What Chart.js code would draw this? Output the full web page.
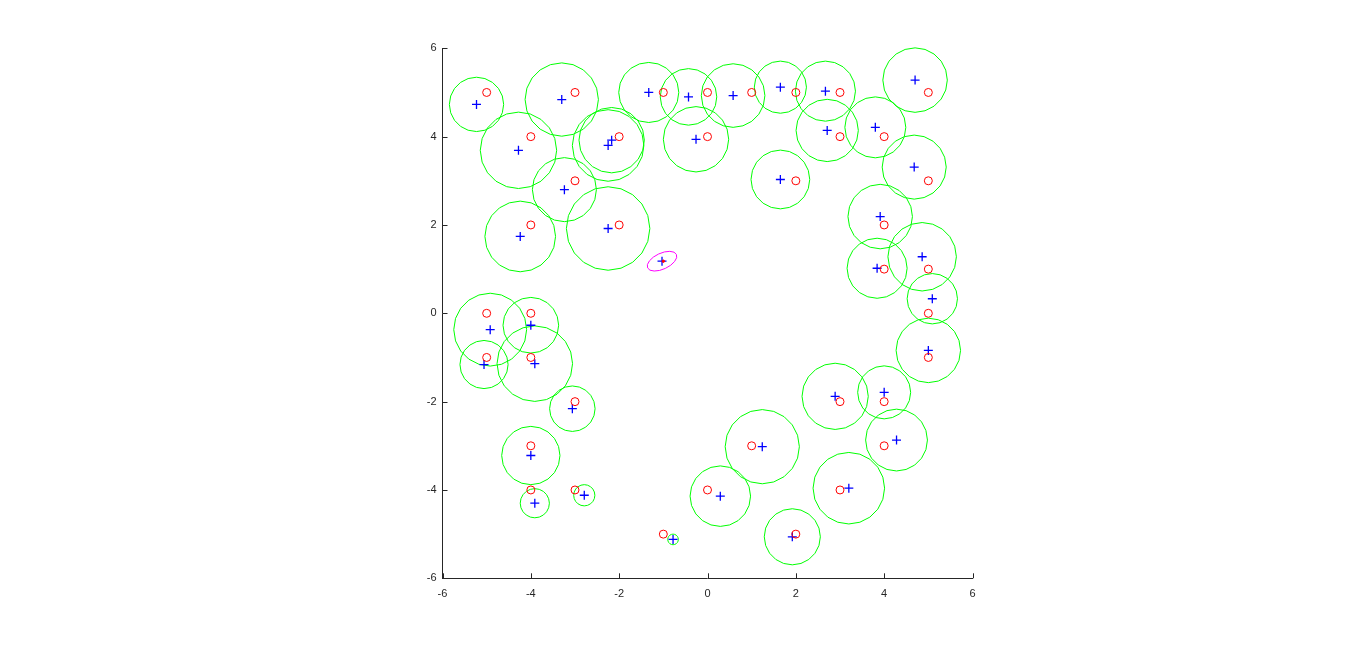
<!DOCTYPE html>
<html>
<head>
<meta charset="utf-8">
<script src="https://cdn.jsdelivr.net/npm/chart.js@4/dist/chart.umd.min.js"></script>
<style>
  html, body { margin: 0; padding: 0; background: #fff; }
  #wrap { width: 1366px; height: 651px; }
</style>
</head>
<body>
<div id="wrap"><canvas id="grafico" width="1366" height="651"></canvas></div>
<script>
// true positions (red circles)
const trueX = [-5, -3, -1, 0, 1, 2, 3, 5, -4, -2, 0, 3, 4, -3, 2, 5, -4, -2, 4, 4, 5, -5, -4, 5, -5, -4, 5, -3, 3, 4, -4, 1, 4, -4, -3, 0, 3, -1, 2];
const trueY = [5, 5, 5, 5, 5, 5, 5, 5, 4, 4, 4, 4, 4, 3, 3, 3, 2, 2, 2, 1, 1, 0, 0, 0, -1, -1, -1, -2, -2, -2, -3, -3, -3, -4, -4, -4, -4, -5, -5];

// estimates (blue +) and uncertainty radius (green circles)
const estX = [-5.23, -3.30, -1.33, -0.43, 0.58, 1.65, 2.67, 4.70, -4.28, -2.25, -2.17, -0.26, 2.71, 3.80, -3.24, 1.65, 4.68, -4.24, -2.25, 3.91, 4.86, 3.84, 5.09, -4.92, -4.00, 5.00, -5.06, -3.91, -3.06, 2.89, 4.00, 4.28, 1.24, -4.00, 3.20, 0.29, -3.91, -2.79, -0.78, 1.92];
const estY = [4.73, 4.84, 5.00, 4.90, 4.93, 5.12, 5.03, 5.28, 3.69, 3.80, 3.92, 3.94, 4.14, 4.21, 2.80, 3.03, 3.31, 1.74, 1.92, 2.19, 1.28, 1.02, 0.33, -0.37, -0.27, -0.84, -1.16, -1.14, -2.16, -1.88, -1.79, -2.87, -3.02, -3.22, -3.96, -4.14, -4.30, -4.12, -5.12, -5.06];
const estR = [0.615, 0.83, 0.68, 0.64, 0.72, 0.59, 0.68, 0.73, 0.865, 0.81, 0.74, 0.74, 0.705, 0.69, 0.725, 0.665, 0.725, 0.80, 0.945, 0.73, 0.775, 0.68, 0.57, 0.825, 0.63, 0.73, 0.545, 0.855, 0.515, 0.75, 0.60, 0.70, 0.84, 0.66, 0.81, 0.685, 0.33, 0.24, 0.12, 0.635];

// the one tracked point with an ellipse (magenta)
const trackX = [-1.03];
const trackY = [1.18];
const trackA = [0.36];
const trackB = [0.18];
const trackAngle = [25];

const tickVals = [-6, -4, -2, 0, 2, 4, 6];

const axisColor = "#262626";

const circlesPlugin = {
    id: "circles",
    beforeDatasetsDraw(chart) {
        const ctx = chart.ctx;
        const xs = chart.scales.x, ys = chart.scales.y;
        const pxPerUnit = xs.getPixelForValue(1) - xs.getPixelForValue(0);
        ctx.save();
        ctx.strokeStyle = "#00ff00";
        ctx.lineWidth = 1;
        const n = 20;
        for (let i = 0; i < estX.length; i++) {
            const cx = xs.getPixelForValue(estX[i]);
            const cy = ys.getPixelForValue(estY[i]);
            const r = estR[i] * pxPerUnit;
            ctx.beginPath();
            for (let k = 0; k <= n; k++) {
                const t = k / n * Math.PI * 2;
                const px = cx + r * Math.cos(t);
                const py = cy + r * Math.sin(t);
                if (k === 0) ctx.moveTo(px, py); else ctx.lineTo(px, py);
            }
            ctx.stroke();
        }
        ctx.strokeStyle = "#ff00ff";
        for (let i = 0; i < trackX.length; i++) {
            ctx.beginPath();
            ctx.ellipse(xs.getPixelForValue(trackX[i]), ys.getPixelForValue(trackY[i]),
                trackA[i] * pxPerUnit, trackB[i] * pxPerUnit, -trackAngle[i] * Math.PI / 180, 0, Math.PI * 2);
            ctx.stroke();
        }
        ctx.restore();
    },
    afterDraw(chart) {
        // inward ticks like matlab
        const ctx = chart.ctx;
        const xs = chart.scales.x, ys = chart.scales.y;
        const a = chart.chartArea;
        ctx.save();
        ctx.strokeStyle = axisColor;
        ctx.lineWidth = 1;
        ctx.beginPath();
        for (const v of tickVals) {
            const px = Math.round(xs.getPixelForValue(v)) + 0.5;
            ctx.moveTo(px, a.bottom);
            ctx.lineTo(px, a.bottom - 5);
            const py = Math.round(ys.getPixelForValue(v)) + 0.5;
            ctx.moveTo(a.left, py);
            ctx.lineTo(a.left + 5, py);
        }
        ctx.stroke();
        ctx.restore();
    }
};

const ctx = document.getElementById("grafico").getContext("2d");

new Chart(ctx, {
    type: "scatter",
    data: {
        datasets: [
            {
                label: "true",
                data: trueX.map((x, i) => ({ x: x, y: trueY[i] })),
                pointStyle: "circle",
                pointRadius: 4,
                borderColor: "#ff0000",
                backgroundColor: "rgba(0,0,0,0)",
                borderWidth: 1
            },
            {
                label: "track",
                data: trackX.map((x, i) => ({ x: x + 0.03, y: trackY[i] })),
                pointStyle: "circle",
                pointRadius: 1.2,
                borderColor: "#ff0000",
                backgroundColor: "#ff0000",
                borderWidth: 1
            },
            {
                label: "est",
                data: estX.concat(trackX).map((x, i) => ({ x: x, y: estY.concat(trackY)[i] })),
                pointStyle: "cross",
                pointRadius: 4.5,
                borderColor: "#0000ff",
                borderWidth: 1.3
            }
        ]
    },
    options: {
        responsive: false,
        animation: false,
        events: [],
        layout: { padding: { left: 412, right: 393.5, top: 48.3, bottom: 0 } },
        plugins: { legend: { display: false }, tooltip: { enabled: false } },
        scales: {
            x: {
                type: "linear",
                min: -6, max: 6,
                afterFit: s => { s.height = 72.7; },
                afterBuildTicks: s => { s.ticks = tickVals.map(v => ({ value: v })); },
                grid: { display: true, drawOnChartArea: false, drawTicks: false },
                border: { display: true, color: axisColor, width: 1 },
                ticks: { color: axisColor, padding: 9, font: { family: "Liberation Sans, Arial", size: 11 } }
            },
            y: {
                type: "linear",
                min: -6, max: 6,
                afterFit: s => { s.width = 30.5; },
                afterBuildTicks: s => { s.ticks = tickVals.map(v => ({ value: v })); },
                grid: { display: true, drawOnChartArea: false, drawTicks: false },
                border: { display: true, color: axisColor, width: 1 },
                ticks: { color: axisColor, padding: 6, font: { family: "Liberation Sans, Arial", size: 11 } }
            }
        }
    },
    plugins: [circlesPlugin]
});
</script>
</body>
</html>
